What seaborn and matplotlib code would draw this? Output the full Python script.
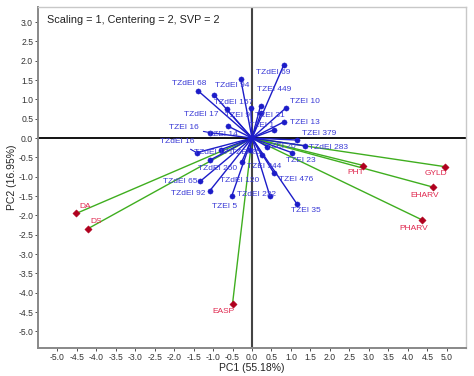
import matplotlib
matplotlib.use('Agg')
import matplotlib.pyplot as plt
import seaborn as sns
import pandas as pd

sns.set_style("white")
plt.rcParams['font.family'] = ['Liberation Sans', 'DejaVu Sans']

# genotype scores (blue)
geno_names = ['TZdEI 69', 'TZdEI 94', 'TZdEI 68', 'TZdEI 157', 'TZEI 449', 'TZEI 10',
              'TZdEI 17', 'TZEI 9', 'TZEI 31', 'TZEI 13', 'TZEI 1', 'TZEI 14',
              'TZEI 16', 'TZEI 379', 'TZdEI 283', 'TZdEI 16', 'TZEI 20', 'TZEI 23',
              'TZdEI 171', 'TZEI 25', 'TZdEI 260', 'TZdEI 65', 'TZdEI 92', 'TZEI 5',
              'TZdEI 120', 'TZEI 344', 'TZdEI 232', 'TZEI 476', 'TZEI 35']
geno_pc1 = [0.81, -0.29, -1.38, -0.97, 0.22, 0.87,
            -0.65, -0.03, 0.23, 0.82, 0.56, -0.62,
            -1.08, 1.15, 1.36, -1.42, 0.39, 1.03,
            -0.80, -0.05, -1.08, -1.33, -1.08, -0.52,
            -0.26, 0.25, 0.46, 0.56, 1.15]
geno_pc2 = [1.88, 1.53, 1.22, 1.11, 0.84, 0.78,
            0.74, 0.78, 0.64, 0.42, 0.21, 0.31,
            0.14, -0.05, -0.20, -0.38, -0.22, -0.38,
            -0.30, -0.30, -0.57, -1.12, -1.36, -1.50,
            -0.61, -0.45, -1.50, -0.90, -1.70]

# trait vectors (red)
trait_names = ['DA', 'DS', 'EASP', 'PHT', 'GYLD', 'EHARV', 'PHARV']
trait_pc1 = [-4.51, -4.22, -0.50, 2.86, 4.95, 4.65, 4.37]
trait_pc2 = [-1.95, -2.35, -4.29, -0.71, -0.74, -1.27, -2.12]

x_ticks = [i * 0.5 for i in range(-10, 11)]
y_ticks = [i * 0.5 for i in range(-10, 7)]

# label offsets in pixels (dx right, dy down)
geno_off = {'TZdEI 69': (-10, 7), 'TZdEI 94': (-9, 7), 'TZdEI 68': (-9, -7),
            'TZdEI 157': (19, 7), 'TZEI 449': (14, -16), 'TZEI 10': (19, -6),
            'TZdEI 17': (-25, 5), 'TZEI 9': (-13, 8), 'TZEI 31': (9, 2),
            'TZEI 13': (21, 1), 'TZEI 1': (-12, -4), 'TZEI 14': (-5, 8),
            'TZEI 16': (-26, -5), 'TZEI 379': (22, -6), 'TZdEI 283': (23, 2),
            'TZdEI 16': (-19, -11), 'TZEI 20': (14, 0), 'TZEI 23': (9, 8),
            'TZdEI 171': (-7, 3), 'TZEI 25': (-4, 3), 'TZdEI 260': (8, 8),
            'TZdEI 65': (-20, 0), 'TZdEI 92': (-22, 3), 'TZEI 5': (-7, 10),
            'TZdEI 120': (-2, 19), 'TZEI 344': (2, 11), 'TZdEI 232': (-13, -2),
            'TZEI 476': (22, 7), 'TZEI 35': (9, 7)}
trait_off = {'DA': (9, -7), 'DS': (9, -7), 'EASP': (-9, 8), 'PHT': (-8, 7),
             'GYLD': (-9, 7), 'EHARV': (-9, 8), 'PHARV': (-9, 8)}

blue = '#1c1cc8'
blue_txt = '#3a3ad6'
red = '#b0001e'
red_txt = '#e0284f'
green = '#3fae1f'

geno = pd.DataFrame({'name': geno_names, 'PC1': geno_pc1, 'PC2': geno_pc2})
traits = pd.DataFrame({'name': trait_names, 'PC1': trait_pc1, 'PC2': trait_pc2})

fig = plt.figure(figsize=(4.74, 3.76), dpi=100)
ax = fig.add_axes([38 / 474, 28 / 376, 428 / 474, 341 / 376])

ax.axhline(0, color='black', lw=1.3, zorder=1)
ax.axvline(0, color='#444444', lw=1.5, zorder=1)

for _, r in traits.iterrows():
    ax.plot([0, r.PC1], [0, r.PC2], color=green, lw=1.0, zorder=2)
for _, r in geno.iterrows():
    ax.plot([0, r.PC1], [0, r.PC2], color=blue, lw=1.0, zorder=3)

sns.scatterplot(data=geno, x='PC1', y='PC2', ax=ax, color=blue, s=14,
                edgecolor=blue, linewidth=0.3, zorder=4, legend=False)
sns.scatterplot(data=traits, x='PC1', y='PC2', ax=ax, color=red, marker='D', s=14,
                edgecolor=red, linewidth=0.3, zorder=5, legend=False)

for _, r in geno.iterrows():
    dx, dy = geno_off[r['name']]
    kw = {}
    if r['name'] in ('TZEI 16', 'TZdEI 16'):
        kw['arrowprops'] = dict(arrowstyle='-', color=blue, lw=0.8, shrinkA=1, shrinkB=1)
    ax.annotate(r['name'], (r.PC1, r.PC2), xytext=(dx * 0.72, -dy * 0.72),
                textcoords='offset points', ha='center', va='center',
                fontsize=6, color=blue_txt, zorder=6, **kw)
for _, r in traits.iterrows():
    dx, dy = trait_off[r['name']]
    ax.annotate(r['name'], (r.PC1, r.PC2), xytext=(dx * 0.72, -dy * 0.72),
                textcoords='offset points', ha='center', va='center',
                fontsize=6, color=red_txt, zorder=6)

ax.text(0.02, 0.962, 'Scaling = 1, Centering = 2, SVP = 2', transform=ax.transAxes,
        fontsize=7.8, ha='left', va='center', color='#222222')

ax.set_xlim(-5.49, 5.49)
ax.set_ylim(-5.43, 3.39)
ax.set_xticks(x_ticks)
ax.set_xticklabels([f'{t:.1f}' for t in x_ticks])
ax.set_yticks(y_ticks)
ax.set_yticklabels([f'{t:.1f}' for t in y_ticks])
ax.tick_params(axis='both', labelsize=6.2, length=2, width=0.6, pad=1.5,
               colors='#333333', bottom=True, left=True)
ax.set_xlabel('PC1 (55.18%)', fontsize=7.5, labelpad=1, color='#222222')
ax.set_ylabel('PC2 (16.95%)', fontsize=7.5, labelpad=1, color='#222222')

for side in ('left', 'bottom'):
    ax.spines[side].set_color('#888888')
    ax.spines[side].set_linewidth(1.4)
for side in ('top', 'right'):
    ax.spines[side].set_color('#c8c8c8')
    ax.spines[side].set_linewidth(1.0)

fig.savefig('out.png', dpi=100)
